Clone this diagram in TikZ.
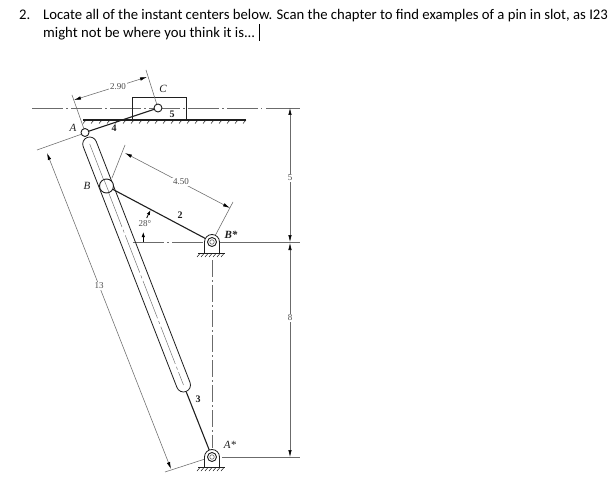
\documentclass[tikz,border=0pt]{standalone}
\usepackage{fontspec}
\setmainfont{Carlito}
\newfontfamily\dimfont{Liberation Serif}
\usetikzlibrary{arrows.meta,calc}
\definecolor{dimgray}{gray}{0.42}
\definecolor{lblk}{gray}{0.12}
\tikzset{
  x=1pt,y=-1pt,
  dimline/.style={draw=dimgray,line width=0.55pt},
  dimarrow/.style={dimline,{Latex[length=7pt,width=3.4pt,black]}-{Latex[length=7pt,width=3.4pt,black]}},
  shortarrow/.style={draw=black,line width=0.8pt,-{Latex[length=5pt,width=3.4pt,black]}},
  center line/.style={draw=dimgray,line width=0.7pt,dash pattern=on 31pt off 3pt on 2pt off 3pt},
  linkline/.style={draw=lblk,line width=1.1pt},
  body/.style={draw=lblk,line width=0.8pt},
  ground/.style={draw=lblk,line width=1.1pt},
  hatch/.style={draw=lblk,line width=0.5pt},
  pin/.style={draw=lblk,fill=white,line width=0.9pt,circle,inner sep=0pt,minimum size=8pt},
  dimtext/.style={font=\dimfont\fontsize{9}{10}\selectfont,text=dimgray!70!black,fill=white,inner sep=1pt},
  lettertext/.style={font=\dimfont\itshape\bfseries\fontsize{11}{12}\selectfont,text=lblk,inner sep=0pt},
  lettertextlight/.style={font=\dimfont\itshape\fontsize{11}{12}\selectfont,text=lblk,inner sep=0pt},
  numtext/.style={font=\dimfont\bfseries\fontsize{10}{11}\selectfont,text=lblk,inner sep=0pt},
  prompt/.style={font=\fontsize{14.7}{16}\selectfont,text=black,inner sep=0pt,anchor=base west},
}
\begin{document}
\begin{tikzpicture}
\useasboundingbox (0,0) rectangle (614,503);
\fill[white] (0,0) rectangle (614,503);
% prompt text
\node[prompt] (num) at (19,20) {2.};
\node[prompt] (line1) at (43,20) {Locate all of the instant centers below. Scan the chapter to find examples of a pin in slot, as I23};
\node[prompt] (line2) at (43,38) {might not be where you think it is...};
\coordinate (curT) at (259,24); \coordinate (curB) at (259,41);
\draw[black,line width=0.8pt] (curT) -- (curB);
% key points
\coordinate (A) at (85,132.5);
\coordinate (C) at (158,108);
\coordinate (B) at (106.5,186);
\coordinate (Bs) at (212,242);
\coordinate (As) at (212,457);
\coordinate (s1) at (89.7,144);
\coordinate (s2) at (183.5,385);
% centre lines
\coordinate (cl1) at (32,108); \coordinate (cl4) at (262,108);
\coordinate (cl4b) at (266,108); \coordinate (cl5) at (300,108);
\draw[center line] (cl1) -- (cl4);
\draw[dimline] (cl4b) -- (cl5);
\coordinate (h1) at (133,242); \coordinate (h2) at (204,242); \coordinate (h3) at (300,242);
\draw[center line] (h1) -- (h2);
\draw[dimline] (h2) -- (h3);
\coordinate (v1) at (212,260); \coordinate (v2) at (212,448);
\draw[center line,dash pattern=on 17pt off 3pt on 2pt off 3pt] (v1) -- (v2);
\coordinate (bl1) at (222,457); \coordinate (bl2) at (300,457);
\draw[dimline] (bl1) -- (bl2);
% ground lines
\coordinate (g1) at (83,120); \coordinate (g2) at (246,120);
\draw[ground] (g1) -- (g2);
\foreach \x in {86,94,...,246} \draw[hatch] (\x,120) -- ++(-3,3.5);
% slider
\node[draw=lblk,line width=0.8pt,minimum width=54pt,minimum height=22pt,inner sep=0pt,anchor=north west] (slider) at (131.5,97.3) {};
% slot (link 3)
\draw[body] ($(s1)+(-6.52,2.56)$) arc[start angle=201.4,end angle=21.4,x radius=7,y radius=-7] -- ($(s2)+(6.52,-2.56)$) arc[start angle=21.4,end angle=-158.6,x radius=7,y radius=-7] -- cycle;
\draw[draw=dimgray,line width=0.45pt,dash pattern=on 40pt off 3pt on 3pt off 3pt] (s1) -- (s2);
\coordinate (r3) at (186.3,392);
\draw[linkline] (r3) -- (As);
% links
\draw[linkline] (A) -- (C);
\draw[linkline] (B) -- (Bs);
% dimension 2.90
\coordinate (e1a) at (72,95); \coordinate (e1b) at (84,129);
\draw[dimline] (e1a) -- (e1b);
\coordinate (e2a) at (146,70); \coordinate (e2b) at (157,105);
\draw[dimline] (e2a) -- (e2b);
\coordinate (d1a) at (74,100); \coordinate (d1b) at (147,77);
\draw[dimarrow] (d1a) -- (d1b);
\node[dimtext] (t290) at (118,87) {2.90};
% dimension 13
\coordinate (e3a) at (37,150); \coordinate (e3b) at (82,134);
\draw[dimline] (e3a) -- (e3b);
\coordinate (e4a) at (165,472); \coordinate (e4b) at (205,459);
\draw[dimline] (e4a) -- (e4b);
\coordinate (d2a) at (47,153); \coordinate (d2b) at (171,469);
\draw[dimarrow] (d2a) -- (d2b);
\node[dimtext] (t13) at (99,286) {13};
% dimension 4.50
\coordinate (e5a) at (125,145); \coordinate (e5b) at (112,178);
\draw[dimline] (e5a) -- (e5b);
\coordinate (e6a) at (233,202); \coordinate (e6b) at (215,236);
\draw[dimline] (e6a) -- (e6b);
\coordinate (d3a) at (125,153); \coordinate (d3b) at (230,208);
\draw[dimarrow] (d3a) -- (d3b);
\node[dimtext] (t450) at (181,182) {4.50};
% right dimensions
\coordinate (r0) at (290,108); \coordinate (r1) at (290,242);
\coordinate (r1b) at (290,243); \coordinate (r2) at (290,457);
\draw[dimarrow] (r0) -- (r1);
\draw[dimarrow] (r1b) -- (r2);
\node[dimtext] (t5) at (290,178) {5};
\node[dimtext] (t8) at (290,318) {8};
% angle
\coordinate (an1) at (146.7,218); \coordinate (an2) at (150.5,210);
\draw[shortarrow] (an1) -- (an2);
\coordinate (an3) at (143.3,242); \coordinate (an4) at (143.3,232);
\draw[shortarrow] (an3) -- (an4);
\node[dimtext,fill=none] (t28) at (145,224) {28°};
% B block
\node[pin,minimum size=14pt] (Bblock) at (B) {};
\draw[dimgray,line width=0.45pt] ($(B)+(-2.6,-6.6)$) -- ($(B)+(2.6,6.6)$);
% pins
\node[pin] (pA) at (A) {};
\node[pin] (pC) at (C) {};
% fixed pivots
\draw[body,fill=white] ($(Bs)+(-7.5,11.5)$) -- ($(Bs)+(-7.5,0)$) arc[start angle=180,end angle=0,x radius=7.5,y radius=-7.5] -- ($(Bs)+(7.5,11.5)$);
\draw[body,fill=white] ($(As)+(-7.5,10.5)$) -- ($(As)+(-7.5,0)$) arc[start angle=180,end angle=0,x radius=7.5,y radius=-7.5] -- ($(As)+(7.5,10.5)$);
\node[pin,minimum size=9pt] (pBs) at (Bs) {};
\node[pin,minimum size=4.5pt,line width=0.6pt,draw=dimgray] (pBi) at (Bs) {};
\node[pin,minimum size=9pt] (pAs) at (As) {};
\node[pin,minimum size=4.5pt,line width=0.6pt,draw=dimgray] (pAi) at (As) {};
\coordinate (gb1) at (198,253.5); \coordinate (gb2) at (225,253.5);
\draw[ground] (gb1) -- (gb2);
\foreach \x in {200,204,...,226} \draw[hatch] (\x,253.5) -- ++(-3,3.5);
\coordinate (ga1) at (198,467.5); \coordinate (ga2) at (225,467.5);
\draw[ground] (ga1) -- (ga2);
\foreach \x in {200,204,...,226} \draw[hatch] (\x,467.5) -- ++(-3,3.5);
% labels
\node[lettertextlight] (lA) at (73,127.5) {A};
\node[lettertextlight] (lB) at (87,186) {B};
\node[lettertextlight] (lC) at (163,89) {C};
\node[lettertext] (lBs) at (231,234.5) {B*};
\node[lettertextlight] (lAs) at (230,445) {A*};
\node[numtext] (l2) at (180,215) {2};
\node[numtext] (l3) at (198,399) {3};
\node[numtext] (l4) at (114,128) {4};
\node[numtext] (l5) at (172,114) {5};
\end{tikzpicture}
\end{document}
